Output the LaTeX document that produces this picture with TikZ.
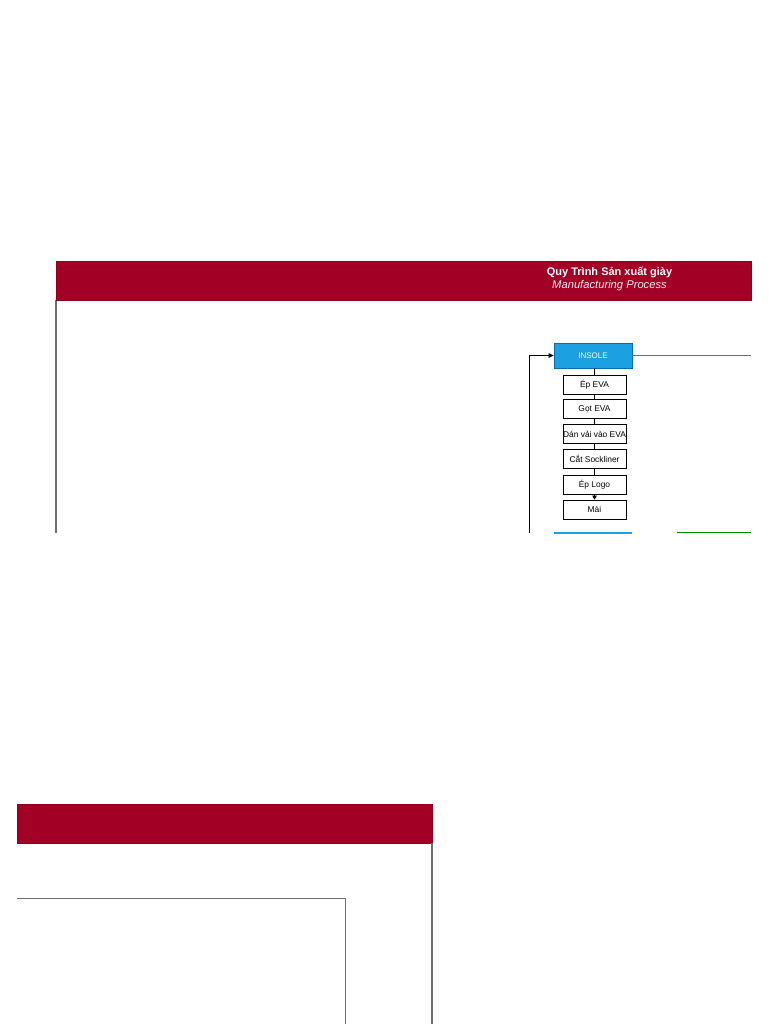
\documentclass[tikz,border=0pt]{standalone}
\usepackage{fontspec}
\setmainfont{Liberation Sans}
\usetikzlibrary{arrows.meta}
\definecolor{hdr}{HTML}{A20025}
\definecolor{hdrline}{HTML}{6F0000}
\definecolor{insfill}{HTML}{1BA1E2}
\definecolor{insline}{HTML}{006EAF}
\definecolor{grn}{HTML}{008A00}
\definecolor{brd}{HTML}{6E6E6E}
\tikzset{
  header/.style={draw=hdrline!40!hdr, fill=hdr, line width=0.6pt},
  border/.style={draw=brd, line width=1.6pt},
  stepbox/.style={draw=black, fill=white, line width=0.7pt, minimum width=63pt, minimum height=19pt, inner sep=0pt, font=\fontsize{8.4}{9}\selectfont},
  blue box/.style={draw=insline, fill=insfill, line width=0.7pt, minimum width=78pt, minimum height=25pt, inner sep=0pt, text=white, font=\fontsize{8}{9}\selectfont},
  link/.style={draw=black, line width=0.8pt},
  conn/.style={draw=black, line width=1pt, -{Triangle[length=5pt,width=4.5pt]}},
}
\begin{document}
\begin{tikzpicture}[x=1pt,y=-1pt]
\useasboundingbox (0,0) rectangle (768,1024);
\fill[white] (0,0) rectangle (768,1024);
% top section
\draw[border] (56,300) -- (56,533);
\path[header] (56,261) rectangle (751,300);
\node[text=white, font=\bfseries\fontsize{11}{12}\selectfont] (title) at (609.5,272) {Quy Trình Sản xuất giày};
\node[text=white!90!gray, font=\itshape\fontsize{11.2}{12}\selectfont] (subtitle) at (609.5,286) {Manufacturing Process};
\node[blue box] (insole) at (593,355.5) {INSOLE};
\node[stepbox] (s1) at (594.5,384.5) {Ép EVA};
\node[stepbox] (s2) at (594.5,409) {Gọt EVA};
\node[stepbox] (s3) at (594.5,434) {Dán vải vào EVA};
\node[stepbox] (s4) at (594.5,458.5) {Cắt Sockliner};
\node[stepbox] (s5) at (594.5,484.5) {Ép Logo};
\node[stepbox] (s6) at (594.5,509.5) {Mài};
\draw[link] (s1.north) -- (s1.north |- insole.south);
\draw[link] (s1) -- (s2);
\draw[link] (s2) -- (s3);
\draw[link] (s3) -- (s4);
\draw[link] (s4) -- (s5);
\draw[link, -{Triangle[length=4pt,width=4.5pt]}] (s5) -- (s6);
\coordinate (rightend) at (751,355.5);
\draw[draw=brd, line width=0.9pt] (insole.east) -- (rightend);
\coordinate (loopstart) at (529,533);
\draw[conn] (loopstart) |- (insole.west);
\coordinate (b1) at (554,533);
\coordinate (b2) at (632,533);
\draw[draw=insfill, line width=1.8pt] (b1) -- (b2);
\coordinate (g1) at (677,532.5);
\coordinate (g2) at (751,532.5);
\draw[draw=grn, line width=1.8pt] (g1) -- (g2);
% bottom section
\path[header] (17,804) rectangle (432,843);
\draw[border] (432,843) -- (432,1024);
\coordinate (i1) at (17,898);
\coordinate (i2) at (345,898);
\coordinate (i3) at (345,1024);
\draw[draw=brd, line width=1pt] (i1) -- (i2) -- (i3);
\end{tikzpicture}
\end{document}
